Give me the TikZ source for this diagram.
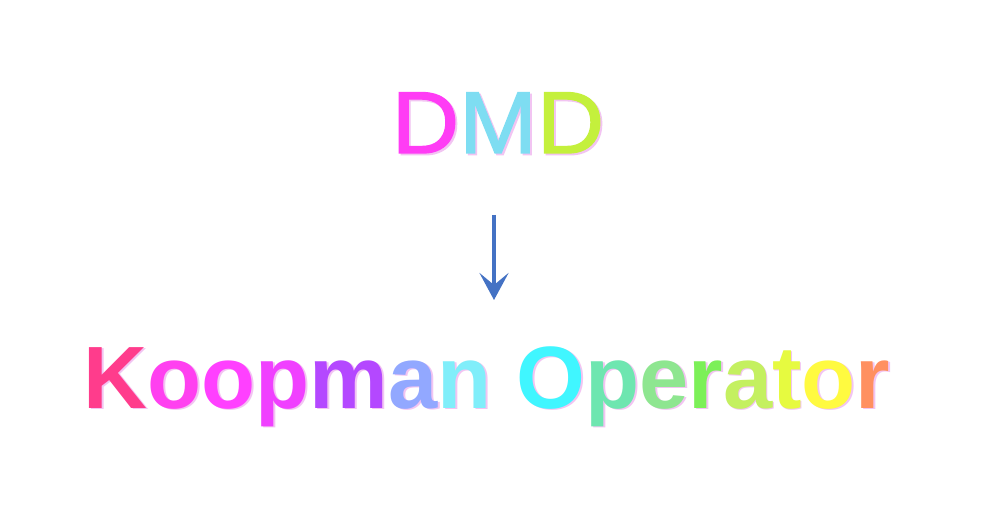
\documentclass[tikz,border=0pt]{standalone}
\usepackage{fontspec}
\usepackage{graphicx}
\setmainfont{Liberation Sans}
\usetikzlibrary{arrows.meta}
\definecolor{cD}{HTML}{FF3CF5}
\definecolor{cM}{HTML}{7EDDF2}
\definecolor{cDD}{HTML}{C4F03C}
\definecolor{cK}{HTML}{FF3C8C}
\definecolor{co}{HTML}{FF40F0}
\definecolor{coo}{HTML}{FF40FF}
\definecolor{cp}{HTML}{F040FF}
\definecolor{cm}{HTML}{B448FF}
\definecolor{ca}{HTML}{92A8FF}
\definecolor{cn}{HTML}{80EEFA}
\definecolor{cO}{HTML}{40F6FF}
\definecolor{cpp}{HTML}{6EE6B0}
\definecolor{ce}{HTML}{8EE690}
\definecolor{cr}{HTML}{7CF058}
\definecolor{caa}{HTML}{C4F060}
\definecolor{ct}{HTML}{E6FA40}
\definecolor{coz}{HTML}{FFFA40}
\definecolor{crr}{HTML}{FF9060}
\definecolor{glow}{HTML}{F2C4F2}
\definecolor{arrowblue}{HTML}{4472C4}
\newcommand{\glowed}[2]{\makebox[0pt][l]{\hspace{1.8pt}\raisebox{-1.8pt}{\textcolor{glow}{#1}}}#2}
\tikzset{
  bigword/.style={inner sep=0pt, anchor=base},
  dmdfont/.style={font=\fontsize{88}{90}\selectfont\addfontfeature{FakeBold=1.5}},
  koopfont/.style={font=\fontsize{88.5}{90}\selectfont\bfseries},
  link/.style={draw=arrowblue, line width=4.5pt, -{Stealth[length=27pt,width=29pt,inset=12pt]}}
}
\begin{document}
\begin{tikzpicture}[x=1pt,y=1pt]
\useasboundingbox[fill=white] (0,0) rectangle (981,514);
\node[bigword, dmdfont] (dmd) at (498,361)
  {\scalebox{1.06}[1]{\glowed{DMD}{\textcolor{cD}{D}\textcolor{cM}{M}\textcolor{cDD}{D}}}};
\node[bigword, koopfont] (koop) at (487,106)
  {\glowed{Koopman Operator}{\textcolor{cK}{K}\textcolor{co}{o}\textcolor{coo}{o}\textcolor{cp}{p}\textcolor{cm}{m}\textcolor{ca}{a}\textcolor{cn}{n} \textcolor{cO}{O}\textcolor{cpp}{p}\textcolor{ce}{e}\textcolor{cr}{r}\textcolor{caa}{a}\textcolor{ct}{t}\textcolor{coz}{o}\textcolor{crr}{r}}};
\draw[link, shorten <=60pt, shorten >=46pt] ([xshift=-4pt]dmd.south) -- ([xshift=7pt]koop.north);
\end{tikzpicture}
\end{document}
